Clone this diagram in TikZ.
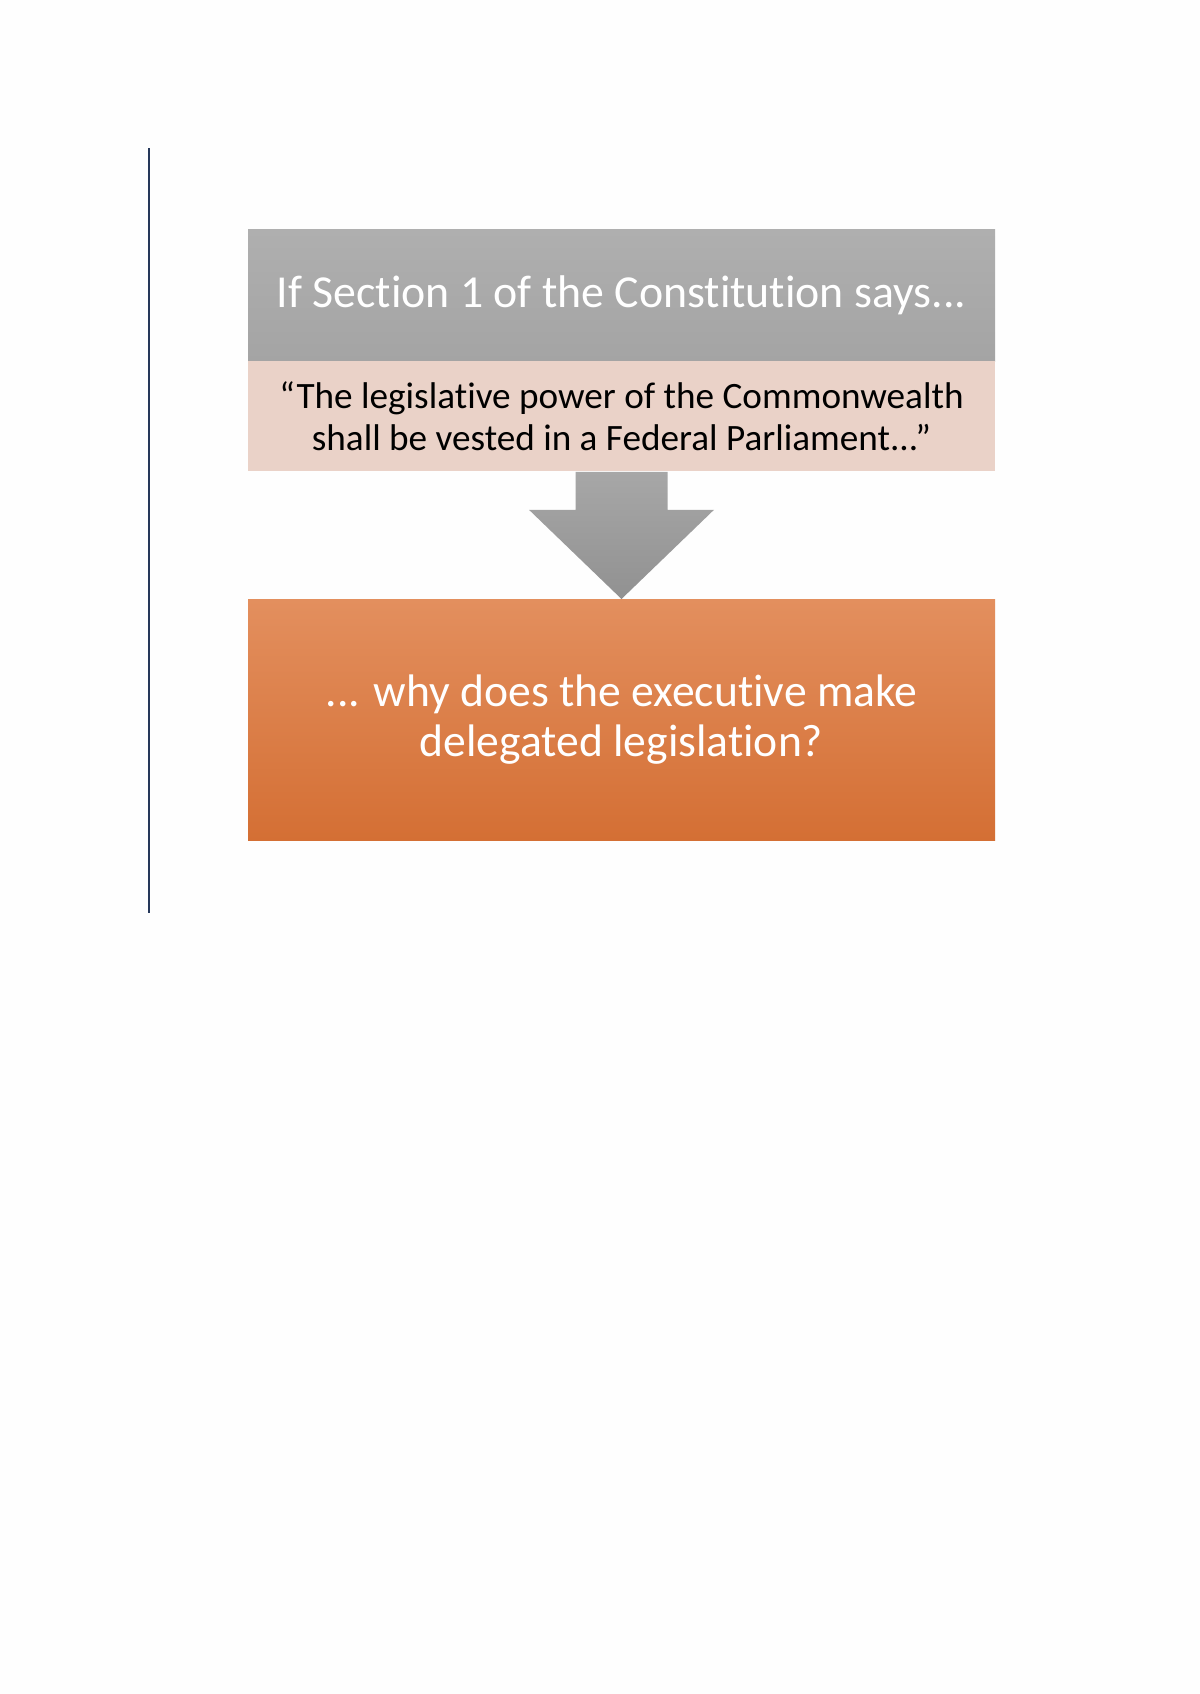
\documentclass[tikz,border=0pt]{standalone}
\usepackage{fontspec}
\setmainfont{Carlito}[Ligatures=NoCommon]
\usetikzlibrary{calc}
\definecolor{pagewhite}{HTML}{FEFEFE}
\definecolor{rulenavy}{HTML}{26385A}
\definecolor{greytop}{HTML}{AFAFAF}
\definecolor{greybot}{HTML}{A4A4A4}
\definecolor{quotepink}{HTML}{EAD2C8}
\definecolor{arrowtop}{HTML}{A7A7A7}
\definecolor{arrowbot}{HTML}{919191}
\definecolor{orangetop}{HTML}{E38F5E}
\definecolor{orangemid}{HTML}{E6813F}
\definecolor{orangebot}{HTML}{D46F34}

\begin{document}
\begin{tikzpicture}[x=0.5pt,y=-0.5pt,
    box/.style={minimum width=373.5pt, inner sep=0pt, anchor=north, align=center},
    rule/.style={draw=rulenavy, line width=1pt}
  ]
  \fill[pagewhite] (0,0) rectangle (1200,1694);
  \useasboundingbox (0,0) rectangle (1200,1694);
  \coordinate (ruletop) at (149,148);
  \coordinate (rulebot) at (149,913);
  \draw [rule] (ruletop) -- (rulebot);
  \node [box, minimum height=66pt, top color=greytop, bottom color=greybot, text=white,
    font=\fontsize{22.9}{27}\selectfont] (section) at (621.5,229) {If Section 1 of the Constitution says...};
  \node [box, minimum height=55pt, fill=quotepink, text=black,
    font=\fontsize{18.6}{21}\selectfont] (quote) at (621.5,361) {“The legislative power of the Commonwealth\\shall be vested in a Federal Parliament...”};
  \node [box, minimum height=120.5pt, top color=orangetop, middle color=orangemid, bottom color=orangebot, text=white,
    font=\fontsize{22.8}{25}\selectfont] (answer) at (621.5,599) {... why does the executive make\\delegated legislation?};
  \shade [top color=arrowtop, bottom color=arrowbot] ($(quote.south)+(-46,0)$) -- ($(quote.south)+(46,0)$)
    -- ($(quote.south)+(46,38)$) -- ($(quote.south)+(92.5,38)$) -- (answer.north)
    -- ($(quote.south)+(-92.5,38)$) -- ($(quote.south)+(-46,38)$) -- cycle;
\end{tikzpicture}
\end{document}
